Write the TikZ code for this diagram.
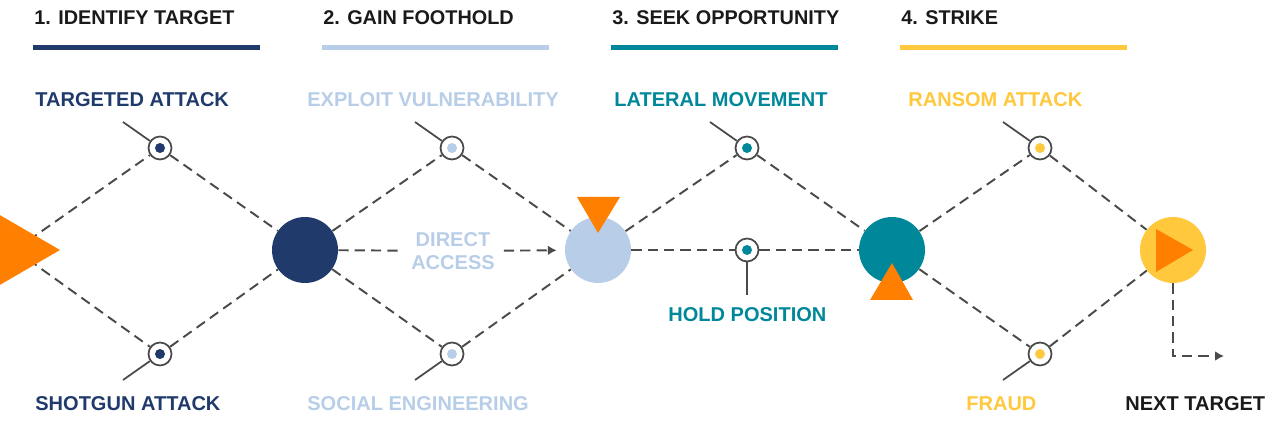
\documentclass[tikz,border=0pt]{standalone}
\usepackage{fontspec}
\setmainfont{Liberation Sans}
\usetikzlibrary{arrows.meta,positioning}

\definecolor{navy}{HTML}{1F3A6B}
\definecolor{sky}{HTML}{B8CEE8}
\definecolor{seagreen}{HTML}{00889A}
\definecolor{gold}{HTML}{FFC83D}
\definecolor{flame}{HTML}{FF7F00}
\definecolor{ink}{HTML}{1A1A1A}
\definecolor{wire}{HTML}{4A4A4A}

\begin{document}
\begin{tikzpicture}[
    x=0.02cm, y=-0.02cm,
    every node/.style={font=\bfseries\fontsize{11.4}{13}\selectfont},
    phase/.style={anchor=west, inner sep=0pt, text=ink, font=\bfseries\fontsize{11.3}{13}\selectfont},
    lbl/.style={anchor=west, inner sep=0pt},
    hub/.style={circle, fill=#1, minimum size=1.32cm, inner sep=0pt},
    marker/.style={circle, draw=wire, fill=white, line width=1pt, minimum size=0.46cm, inner sep=0pt,
        path picture={\fill[#1] (path picture bounding box.center) circle (0.1cm);}},
    route/.style={draw=wire, line width=1.1pt, dash pattern=on 5.8pt off 3.5pt},
    stem/.style={draw=wire, line width=1pt},
    flow/.style={route, -{Latex[length=5pt, width=5.5pt]}}
]
\useasboundingbox (0,0) rectangle (1280,428);

% phase headers
\foreach \x/\c/\t in {33/navy/1. IDENTIFY TARGET, 322/sky/2. GAIN FOOTHOLD,
                       611/seagreen/3. SEEK OPPORTUNITY, 900/gold/4. STRIKE} {
  \node[phase] at (\x+1,18) {\t};
  \fill[\c] (\x,45) rectangle (\x+227,50);
}

% hubs
\coordinate (start) at (15,250);
\node[hub=navy] (target) at (305,250) {};
\node[hub=sky] (foothold) at (598,250) {};
\node[hub=seagreen] (opportunity) at (892,250) {};
\node[hub=gold] (strike) at (1173,250) {};
\coordinate (next) at (1224,356);

% markers
\node[marker=navy] (targeted) at (160,148) {};
\node[marker=navy] (shotgun) at (160,354) {};
\node[marker=sky] (exploit) at (452,148) {};
\node[marker=sky] (social) at (452,354) {};
\node[marker=seagreen] (lateral) at (747,148) {};
\node[marker=seagreen] (hold) at (747,250) {};
\node[marker=gold] (ransom) at (1040,148) {};
\node[marker=gold] (fraud) at (1040,354) {};

% labels
\node[lbl, text=navy] at (35,100) {TARGETED ATTACK};
\node[lbl, text=navy] at (35,404) {SHOTGUN ATTACK};
\node[lbl, text=sky] at (307,100) {EXPLOIT VULNERABILITY};
\node[lbl, text=sky] at (307,404) {SOCIAL ENGINEERING};
\node[lbl, text=seagreen] at (614,100) {LATERAL MOVEMENT};
\node[lbl, text=seagreen] at (668,315) {HOLD POSITION};
\node[lbl, text=gold] at (908,100) {RANSOM ATTACK};
\node[lbl, text=gold] at (966,404) {FRAUD};
\node[lbl, text=ink] at (1125,404) {NEXT TARGET};
\node[align=center, text=sky, inner sep=5pt] (direct) at (453,251) {DIRECT\\ACCESS};

% paths
\draw[route] (start) -- (targeted) -- (target);
\draw[route] (start) -- (shotgun) -- (target);
\draw[route] (target) -- (exploit) -- (foothold);
\draw[route] (target) -- (social) -- (foothold);
\draw[route] (target) -- (direct);
\draw[flow, shorten >=0.16cm] (direct) -- (foothold);
\draw[route] (foothold) -- (lateral) -- (opportunity);
\draw[route] (foothold) -- (hold) -- (opportunity);
\draw[route] (opportunity) -- (ransom) -- (strike);
\draw[route] (opportunity) -- (fraud) -- (strike);
\draw[flow] (strike.south) |- (next);

% stems
\foreach \m in {targeted, exploit, lateral, ransom} \draw[stem] (\m) -- ++(-37,-26);
\foreach \m in {shotgun, social, fraud} \draw[stem] (\m) -- ++(-37,26);
\draw[stem] (hold) -- ++(0,45);

% markers of the attacker
\fill[flame] (-2,214) -- (60,250) -- (-2,286) -- cycle;
\fill[flame] (577,197) -- (620,197) -- (598,233) -- cycle;
\fill[flame] (870,300) -- (913,300) -- (892,263) -- cycle;
\fill[flame] (1156,229) -- (1193,250) -- (1156,272) -- cycle;
\end{tikzpicture}
\end{document}
